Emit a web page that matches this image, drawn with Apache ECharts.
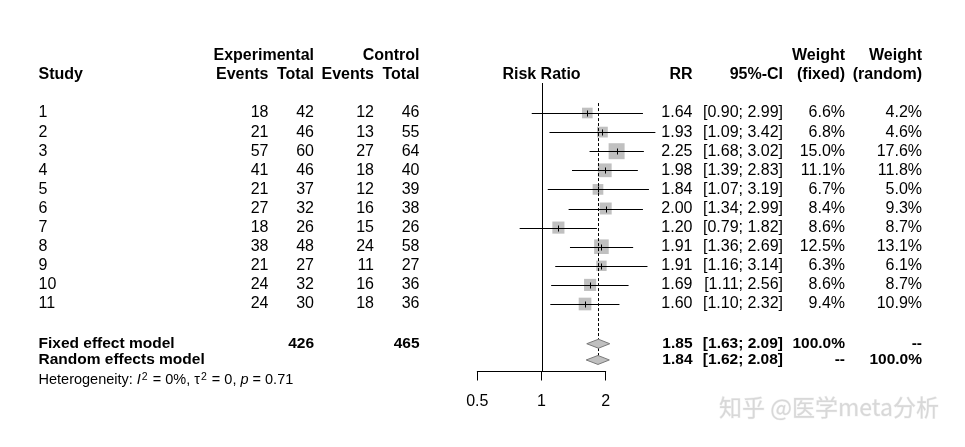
<!DOCTYPE html>
<html><head><meta charset="utf-8">
<script src="https://cdn.jsdelivr.net/npm/echarts@6/dist/echarts.min.js"></script>
<style>html,body{margin:0;padding:0;background:#fff}#c{width:965px;height:447px}</style>
</head><body><div id="c"></div>
<script>
// ---- data ----
const studies    = ['1','2','3','4','5','6','7','8','9','10','11'];
const expEvents  = [18,21,57,41,21,27,18,38,21,24,24];
const expTotal   = [42,46,60,46,37,32,26,48,27,32,30];
const ctrlEvents = [12,13,27,18,12,16,15,24,11,16,18];
const ctrlTotal  = [46,55,64,40,39,38,26,58,27,36,36];
const rr         = [1.64,1.93,2.25,1.98,1.84,2.00,1.20,1.91,1.91,1.69,1.60];
const lower      = [0.90,1.09,1.68,1.39,1.07,1.34,0.79,1.36,1.16,1.11,1.10];
const upper      = [2.99,3.42,3.02,2.83,3.19,2.99,1.82,2.69,3.14,2.56,2.32];
const wFixed     = [6.6,6.8,15.0,11.1,6.7,8.4,8.6,12.5,6.3,8.6,9.4];
const wRandom    = [4.2,4.6,17.6,11.8,5.0,9.3,8.7,13.1,6.1,8.7,10.9];
const modelNames = ['Fixed effect model','Random effects model'];
const modelRR    = [1.85,1.84];
const modelLower = [1.63,1.62];
const modelUpper = [2.09,2.08];
const modelExpTotal  = ['426',''];
const modelCtrlTotal = ['465',''];
const modelWFixed  = ['100.0%','--'];
const modelWRandom = ['--','100.0%'];
const headerTop    = ['Experimental','Control','Weight','Weight'];
const headerBottom = ['Study','Events','Total','Events','Total','Risk Ratio','RR','95%-CI','(fixed)','(random)'];
const xTicks = [0.5,1,2];
const heterogeneity = {I2:'0%', tau2:'0', p:'0.71'};
const watermark = '知乎 @医学meta分析';

// ---- layout ----
const FONT = '"Liberation Sans", Arial, Helvetica, sans-serif';
const COL = {study:38.5, expEv:268.5, expTot:314, ctrlEv:374, ctrlTot:419.5, ratio:541.5, rr:692.5, ci:783, wf:845, wr:922};
const ROW_HDR1 = -2, ROW_HDR2 = -1.03, ROW_MODEL = [13.08, 13.93], ROW_HET = 14.98;

function txt(x, y, s, align, bold, size) {
  return {type:'text', x:x, y:y, silent:true,
    style:{text:s, fill:'#000', fontFamily:FONT, fontSize:size||16,
      fontWeight:bold?'bold':'normal', align:align||'right', verticalAlign:'middle'}};
}
const f2 = v => v.toFixed(2);
const ciStr = (a,b) => '[' + f2(a) + '; ' + f2(b) + ']';
const snap = v => Math.round(v) + 0.5;

const chart = echarts.init(document.getElementById('c'));

const tableRows = studies.map((s,i) => [1, i+1]);

chart.setOption({
  animation:false,
  backgroundColor:'#fff',
  grid:[
    {left:413.1, right:295.1, top:36.6, bottom:28.4},
    {left:477.3, width:128.4, top:360, height:11.5}
  ],
  xAxis:[
    {gridIndex:0, type:'log', logBase:2, min:0.25, max:4, show:false},
    {gridIndex:1, type:'log', logBase:2, min:xTicks[0], max:xTicks[xTicks.length-1],
     axisLine:{show:true, onZero:false, lineStyle:{color:'#000', width:1}},
     axisTick:{show:true, length:9, lineStyle:{color:'#000', width:1}},
     splitLine:{show:false}, minorTick:{show:false},
     axisLabel:{show:true, margin:22, color:'#000', fontFamily:FONT, fontSize:16,
       formatter:v => String(+v.toPrecision(3))}}
  ],
  yAxis:[
    {gridIndex:0, type:'value', inverse:true, min:-3, max:17, show:false},
    {gridIndex:1, type:'value', min:0, max:1, show:false}
  ],
  series:[
    // squares (beneath lines)
    {type:'custom', xAxisIndex:0, yAxisIndex:0, clip:false, z:2,
     data: rr.map((v,i)=>[v, i+1]),
     renderItem:(params, api) => {
       const i = params.dataIndex;
       const c = api.coord([api.value(0), api.value(1)]);
       const s = 4.13*Math.sqrt(wFixed[i]);
       return {type:'rect', shape:{x:c[0]-s/2, y:c[1]-s/2, width:s, height:s}, style:{fill:'#c0c0c0'}};
     }},
    // reference lines
    {type:'custom', xAxisIndex:0, yAxisIndex:0, clip:false, z:3,
     data: [[1, 0], [modelRR[0], 0]],
     renderItem:(params, api) => {
       const x = api.value(0);
       const dashed = params.dataIndex === 1;
       const a = api.coord([x, dashed ? 0.48 : -0.57]);
       const b = api.coord([x, dashed ? 13.72 : 14.53]);
       return {type:'line', shape:{x1:snap(a[0]), y1:a[1], x2:snap(a[0]), y2:b[1]},
         style:{stroke:'#000', lineWidth:1, lineDash: dashed ? [3,2] : null}};
     }},
    // CI lines and point ticks
    {type:'custom', xAxisIndex:0, yAxisIndex:0, clip:false, z:4,
     data: rr.map((v,i)=>[v, i+1, lower[i], upper[i]]),
     renderItem:(params, api) => {
       const row = api.value(1);
       const c = api.coord([api.value(0), row]);
       const lo = api.coord([api.value(2), row]);
       const hi = api.coord([api.value(3), row]);
       const y = snap(c[1]);
       return {type:'group', children:[
         {type:'line', shape:{x1:lo[0], y1:y, x2:hi[0], y2:y}, style:{stroke:'#000', lineWidth:1}},
         {type:'line', shape:{x1:snap(c[0]), y1:y-3, x2:snap(c[0]), y2:y+3}, style:{stroke:'#000', lineWidth:1}}
       ]};
     }},
    // diamonds
    {type:'custom', xAxisIndex:0, yAxisIndex:0, clip:false, z:5,
     data: modelRR.map((v,i)=>[v, ROW_MODEL[i], modelLower[i], modelUpper[i]]),
     renderItem:(params, api) => {
       const row = api.value(1);
       const c = api.coord([api.value(0), row]);
       const lo = api.coord([api.value(2), row]);
       const hi = api.coord([api.value(3), row]);
       const h = 4.5;
       return {type:'polygon', shape:{points:[[lo[0],c[1]],[c[0],c[1]-h],[hi[0],c[1]],[c[0],c[1]+h]]},
         style:{fill:'#c0c0c0', stroke:'#7a7a7a', lineWidth:1}};
     }},
    // table text
    {type:'custom', xAxisIndex:0, yAxisIndex:0, clip:false, z:6,
     data: tableRows,
     renderItem:(params, api) => {
       const i = params.dataIndex;
       const y = api.coord([1, api.value(1)])[1];
       const ch = [
         txt(COL.study, y, studies[i], 'left'),
         txt(COL.expEv, y, String(expEvents[i])),
         txt(COL.expTot, y, String(expTotal[i])),
         txt(COL.ctrlEv, y, String(ctrlEvents[i])),
         txt(COL.ctrlTot, y, String(ctrlTotal[i])),
         txt(COL.rr, y, f2(rr[i])),
         txt(COL.ci, y, ciStr(lower[i], upper[i])),
         txt(COL.wf, y, wFixed[i].toFixed(1)+'%'),
         txt(COL.wr, y, wRandom[i].toFixed(1)+'%')
       ];
       if (i === 0) {
         const y1 = api.coord([1, ROW_HDR1])[1], y2 = api.coord([1, ROW_HDR2])[1];
         const tc = [COL.expTot, COL.ctrlTot, COL.wf, COL.wr];
         headerTop.forEach((s,k)=>ch.push(txt(tc[k], y1, s, 'right', true)));
         const bc = [COL.study, COL.expEv, COL.expTot, COL.ctrlEv, COL.ctrlTot, COL.ratio, COL.rr, COL.ci, COL.wf, COL.wr];
         headerBottom.forEach((s,k)=>ch.push(txt(bc[k], y2, s, k===0?'left':(k===5?'center':'right'), true)));
         modelNames.forEach((s,k)=>{
           const ym = api.coord([1, ROW_MODEL[k]])[1];
           const fs = 15.5;
           ch.push(txt(COL.study, ym, s, 'left', true, fs));
           ch.push(txt(COL.expTot, ym, modelExpTotal[k], 'right', true, fs));
           ch.push(txt(COL.ctrlTot, ym, modelCtrlTotal[k], 'right', true, fs));
           ch.push(txt(COL.rr, ym, f2(modelRR[k]), 'right', true, fs));
           ch.push(txt(COL.ci, ym, ciStr(modelLower[k], modelUpper[k]), 'right', true, fs));
           ch.push(txt(COL.wf, ym, modelWFixed[k], 'right', true, fs));
           ch.push(txt(COL.wr, ym, modelWRandom[k], 'right', true, fs));
         });
         const yh = api.coord([1, ROW_HET])[1];
         ch.push({type:'text', x:COL.study, y:yh, silent:true, style:{
           text:'{n|Heterogeneity: }{i|I}{s|2}{n| = ' + heterogeneity.I2 + ', τ}{s|2}{n| = ' + heterogeneity.tau2 + ', }{i|p}{n| = ' + heterogeneity.p + '}',
           align:'left', verticalAlign:'middle', fill:'#000', fontFamily:FONT, fontSize:14.5,
           rich:{
             n:{fontFamily:FONT, fontSize:14.5, fill:'#000', lineHeight:16},
             i:{fontFamily:FONT, fontSize:14.5, fontStyle:'italic', fill:'#000', lineHeight:16},
             s:{fontFamily:FONT, fontSize:10.5, fill:'#000', lineHeight:16, verticalAlign:'top', padding:[0,1,8,1]}
           }}});
         ch.push({type:'text', x:829, y:407, silent:true, style:{text:watermark, fill:'#d8d8d8',
           stroke:'#f4f4f4', lineWidth:1, fontFamily:'"Noto Sans CJK SC", sans-serif', fontSize:23,
           align:'center', verticalAlign:'middle'}});
       }
       return {type:'group', children:ch};
     }}
  ]
});
</script>
</body></html>
